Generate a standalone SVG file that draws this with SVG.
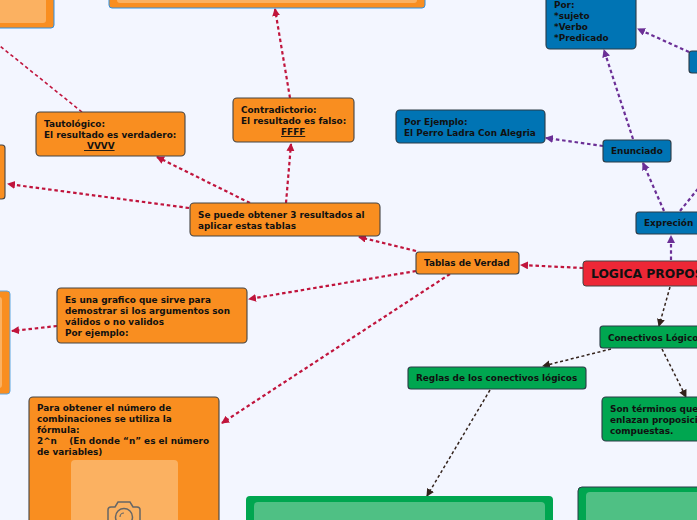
<svg xmlns="http://www.w3.org/2000/svg" width="697" height="520" viewBox="0 0 697 520">
<style>
text{font-family:"DejaVu Sans",Verdana,sans-serif;font-weight:700;font-size:8.9px;fill:#111}
.o{fill:#f98e20;stroke:#444;stroke-width:1.1}
.b{fill:#0074b4;stroke:#2b3a46;stroke-width:1.1}
.g{fill:#00a650;stroke:#2b3a46;stroke-width:1.1}
.r{stroke:#c0143c;stroke-width:2.2;stroke-dasharray:3.500 2.800;fill:none;marker-end:url(#mr)}
.p{stroke:#6b2f96;stroke-width:2.200;stroke-dasharray:3.500 2.800;fill:none;marker-end:url(#mp)}
.k{stroke:#33231c;stroke-width:1.500;stroke-dasharray:3 2.500;fill:none;marker-end:url(#mk)}
</style>
<defs>
<marker id="mr" markerWidth="10" markerHeight="10" refX="7" refY="4" orient="auto" markerUnits="userSpaceOnUse"><path d="M0 0L8 4L0 8Z" fill="#c0143c"/></marker>
<marker id="mp" markerWidth="10" markerHeight="10" refX="7" refY="4" orient="auto" markerUnits="userSpaceOnUse"><path d="M0 0L8 4L0 8Z" fill="#6b2f96"/></marker>
<marker id="mk" markerWidth="10" markerHeight="10" refX="7" refY="4" orient="auto" markerUnits="userSpaceOnUse"><path d="M0 0L8 4L0 8Z" fill="#33231c"/></marker>
</defs>
<rect width="697" height="520" fill="#f3f6ff"/>
<g id="connectors">
<path class="r" d="M583 268L521 265"/>
<path class="r" d="M416 251L359 237"/>
<path class="r" d="M416 271L249 299"/>
<path class="r" d="M450 274L222 423"/>
<path class="r" d="M57 326L12 331"/>
<path class="r" d="M189 208L8 184"/>
<path class="r" d="M250 203L157 157"/>
<path class="r" d="M286 203L291 144"/>
<path class="r" style="marker-end:none;stroke-width:1.600" d="M82 112L-20 30"/>
<path class="r" d="M290 98L275 9"/>
<path class="p" d="M671 260L671 236"/>
<path class="p" d="M664 211L643 163"/>
<path class="p" style="marker-end:none" d="M680 211L705 180"/>
<path class="p" d="M603 146L546 138"/>
<path class="p" d="M633 139L604 50"/>
<path class="p" d="M689 52L638 29"/>
<path class="k" d="M670 287L659 326"/>
<path class="k" d="M611 349L543 366"/>
<path class="k" d="M662 349L686 397"/>
<path class="k" d="M490 390L427 496"/>
</g>
<g id="n-top-left"><rect x="-20" y="-20" width="74" height="48" rx="3" fill="#f98e20" stroke="#2f8fe0"/><rect x="-20" y="-20" width="66" height="43" rx="3" fill="#fbb161"/></g>
<g id="n-top-center"><rect x="109" y="-20" width="316" height="28" rx="3" fill="#f98e20" stroke="#2f8fe0"/><rect x="117" y="-20" width="300" height="23" rx="3" fill="#fbb161"/></g>
<g id="n-left-mid"><rect x="-20" y="145" width="25" height="54" rx="3" class="o"/></g>
<g id="n-left-photo"><rect x="-20" y="291" width="30" height="103" rx="3" fill="#f98e20" stroke="#5fa5e0"/><rect x="-20" y="297" width="22" height="91" rx="3" fill="#fbb161"/></g>
<g id="n-tauto"><rect x="36" y="112" width="149" height="44" rx="4" class="o"/><text x="44" y="127">Tautológico:</text><text x="44" y="138">El resultado es verdadero:</text><text x="84" y="149" text-decoration="underline" xml:space="preserve"> VVVV</text></g>
<g id="n-contra"><rect x="233" y="98" width="121" height="44" rx="4" class="o"/><text x="241" y="113">Contradictorio:</text><text x="241" y="124">El resultado es falso:</text><text x="281" y="135" text-decoration="underline">FFFF</text></g>
<g id="n-resultados"><rect x="190" y="203" width="190" height="33" rx="4" class="o"/><text x="198" y="218">Se puede obtener 3 resultados al</text><text x="198" y="229">aplicar estas tablas</text></g>
<g id="n-tablas"><rect x="416" y="252" width="103" height="22" rx="3" class="o"/><text x="424" y="266">Tablas de Verdad</text></g>
<g id="n-grafico"><rect x="57" y="288" width="190" height="55" rx="4" class="o"/><text x="65" y="303">Es una grafico que sirve para</text><text x="65" y="314">demostrar si los argumentos son</text><text x="65" y="325">válidos o no validos</text><text x="65" y="336">Por ejemplo:</text></g>
<g id="n-formula"><rect x="29" y="397" width="190" height="143" rx="4" class="o"/><text x="37" y="411">Para obtener el número de</text><text x="37" y="422">combinaciones se utiliza la</text><text x="37" y="433">fórmula:</text><text x="37" y="444" xml:space="preserve">2^n    (En donde “n” es el número</text><text x="37" y="455">de variables)</text><rect x="71" y="460" width="107" height="80" rx="4" fill="#fbb161"/><path d="M108 530V510Q108 507 111 507H115L118 502H130L133 507H137Q140 507 140 510V530" fill="none" stroke="#666" stroke-width="1.500"/><circle cx="124" cy="517" r="8.500" fill="none" stroke="#666" stroke-width="1.500"/><path d="M120 517A4 4 0 0 1 124 513" fill="none" stroke="#666" stroke-width="1.200"/></g>
<g id="n-root"><rect x="583" y="261" width="134" height="25" rx="3" fill="#ed2736" stroke="#444"/><text x="591" y="278" style="font-size:12.300px">LOGICA PROPOSICIONAL</text></g>
<g id="n-exprecion"><rect x="636" y="212" width="80" height="22" rx="3" class="b"/><text x="644" y="226">Expreción</text></g>
<g id="n-enunciado"><rect x="603" y="140" width="68" height="22" rx="3" class="b"/><text x="611" y="154">Enunciado</text></g>
<g id="n-ejemplo"><rect x="396" y="110" width="149" height="33" rx="4" class="b"/><text x="404" y="125">Por Ejemplo:</text><text x="404" y="136">El Perro Ladra Con Alegria</text></g>
<g id="n-por"><rect x="546" y="-20" width="90" height="69" rx="4" class="b"/><text x="554" y="8">Por:</text><text x="554" y="19">*sujeto</text><text x="554" y="30">*Verbo</text><text x="554" y="41">*Predicado</text></g>
<g id="n-right-blue"><rect x="689" y="51" width="20" height="22" rx="3" class="b"/></g>
<g id="n-conectivos"><rect x="600" y="326" width="110" height="22" rx="3" class="g"/><text x="608" y="341">Conectivos Lógicos</text></g>
<g id="n-reglas"><rect x="408" y="367" width="178" height="22" rx="3" class="g"/><text x="416" y="381">Reglas de los conectivos lógicos</text></g>
<g id="n-terminos"><rect x="602" y="397" width="120" height="44" rx="4" class="g"/><text x="610" y="412">Son términos que</text><text x="610" y="423">enlazan proposiciones</text><text x="610" y="434">compuestas.</text></g>
<g id="n-green-a"><rect x="246" y="496" width="307" height="40" rx="4" fill="#00a650"/><rect x="254" y="502" width="291" height="34" rx="4" fill="#4fc084"/></g>
<g id="n-green-b"><rect x="578" y="487" width="130" height="50" rx="4" fill="#00a650" stroke="#2b3a46"/><rect x="586" y="492" width="120" height="44" rx="4" fill="#4fc084"/></g>
</svg>
